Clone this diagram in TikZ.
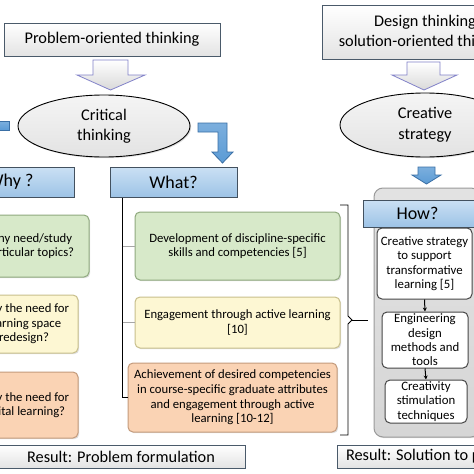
\documentclass[tikz,border=0pt]{standalone}
\usepackage{fontspec}
\setmainfont{Carlito}
\usetikzlibrary{shapes.geometric,shadows,arrows.meta,calc}
\definecolor{edgeblue}{HTML}{4A5A6A}
\definecolor{barblue}{HTML}{B4D3EF}
\definecolor{barblueD}{HTML}{9DC3E6}
\definecolor{arrblue}{HTML}{5B9BD5}
\definecolor{arrblueD}{HTML}{3A6FA5}
\definecolor{gfill}{HTML}{D7E9C9}
\definecolor{gedge}{HTML}{8FA97E}
\definecolor{yfill}{HTML}{FDF7D3}
\definecolor{yedge}{HTML}{C8BF8C}
\definecolor{ofill}{HTML}{FAD3B4}
\definecolor{oedge}{HTML}{C49B7C}
\definecolor{panel}{HTML}{D6D6D6}
\definecolor{panelD}{HTML}{9A9A9A}
\tikzset{
  softshadow/.style={drop shadow={opacity=0.25,shadow xshift=1.2pt,shadow yshift=-1.2pt}},
  graybox/.style={draw=edgeblue,line width=1pt,top color=white,bottom color=gray!22,inner sep=0pt,softshadow,font=\fontsize{16.3}{20}\selectfont,align=center},
  bluebar/.style={draw=edgeblue!90!black,line width=1pt,top color=barblue!70,bottom color=barblueD,inner sep=0pt,softshadow,font=\fontsize{18}{20}\selectfont,align=center},
  ovalnode/.style={ellipse,draw=black,line width=0.9pt,top color=gray!8,bottom color=gray!22,inner sep=0pt,softshadow,font=\fontsize{16.3}{20.5}\selectfont,align=center},
  cbox/.style={rounded corners=5pt,line width=1pt,inner sep=0pt,softshadow,font=\fontsize{12.7}{14.6}\selectfont,align=center},
  greenbox/.style={cbox,draw=gedge,fill=gfill},
  yellowbox/.style={cbox,draw=yedge,fill=yfill},
  orangebox/.style={cbox,draw=oedge,fill=ofill},
  howbox/.style={rounded corners=5pt,draw=gray!55!black,line width=1pt,fill=white,inner sep=0pt,font=\fontsize{12.8}{14.4}\selectfont,align=center},
  hollowarrow/.style={draw=gray!60!blue!70,line width=0.8pt,top color=white,bottom color=gray!30},
  bluearrow/.style={draw=arrblueD,line width=0.8pt,top color=arrblue!80,bottom color=arrblue},
  treeline/.style={draw=black,line width=0.8pt},
}
\begin{document}
\begin{tikzpicture}[x=1pt,y=-1pt]
\useasboundingbox (0,0) rectangle (474,474);
\clip (0,0) rectangle (474,474);
\fill[white] (0,0) rectangle (474,474);

% ---------- left column ----------
\node[graybox,minimum width=216pt,minimum height=33pt] (pot) at (112,39.5) {Problem-oriented thinking};
\draw[hollowarrow] (93,60) -- (128,60) -- (128,75) -- (145,75) -- (110.5,90) -- (77,75) -- (93,75) -- cycle;
\node[ovalnode,minimum width=172pt,minimum height=62pt] (crit) at (104,126) {Critical\\thinking};

% bent arrows from critical thinking
\draw[bluearrow] (-5,121) -- (9,121) -- (9,130) -- (-5,130) -- cycle;
\draw[bluearrow] (198,123) -- (227,123) -- (227,152) -- (233,152) -- (222.5,163) -- (212,152) -- (218,152) -- (218,132) -- (198,132) -- cycle;

\node[bluebar,minimum width=127pt,minimum height=30pt] (why) at (10.5,182) {Why ?};
\node[bluebar,minimum width=127pt,minimum height=30pt] (what) at (173.5,182) {What?};

\node[greenbox,minimum width=119pt,minimum height=62pt] (lg) at (29.5,246) {Why need/study\\particular topics?};
\node[yellowbox,minimum width=108pt,minimum height=58pt] (ly) at (24,324) {Why the need for\\learning space\\redesign?};
\node[orangebox,minimum width=108pt,minimum height=66pt] (lo) at (24,405) {Why the need for\\digital learning?};

\node[greenbox,minimum width=205pt,minimum height=68pt] (wg) at (237.5,246) {Development of discipline-specific\\skills and competencies [5]};
\node[yellowbox,minimum width=205pt,minimum height=51pt] (wy) at (237.5,322.5) {Engagement through active learning\\{}[10]};
\node[orangebox,minimum width=209pt,minimum height=69pt] (wo) at (232.5,397.5) {Achievement of desired competencies\\in course-specific graduate attributes\\and engagement through active\\learning [10-12]};

% tree lines
\coordinate (tr) at ($(what.south west)+(13,0)$);
\draw[treeline] (tr) |- (wo.west);
\draw[treeline,draw=gray!70] (tr |- wg.west) -- (wg.west);
\draw[treeline,draw=gray!70] (tr |- wy.west) -- (wy.west);

% bracket
\coordinate (bt) at (340,205);
\coordinate (bb) at (340,435);
\coordinate (bm) at (352,320);
\draw[treeline] (bt) -- (348,205) -- (348,316) -- (bm) -- (348,324) -- (348,435) -- (bb);
\draw[treeline] (bm) -- (368,320);

\node[graybox,minimum width=248pt,minimum height=23pt] (res1) at (121,456.5) {Result: Problem formulation};

% ---------- right column ----------
\node[graybox,minimum width=206pt,minimum height=54pt] (dt) at (425,32) {Design thinking\\solution-oriented thinking};
\draw[hollowarrow] (407,62) -- (440,62) -- (440,75) -- (457,75) -- (424,90) -- (392,75) -- (407,75) -- cycle;
\node[ovalnode,minimum width=170pt,minimum height=64pt] (cs) at (425,125) {Creative\\strategy};
\draw[bluearrow] (418,167) -- (435,167) -- (435,175) -- (441,175) -- (426.5,184) -- (412,175) -- (418,175) -- cycle;

\node[rounded corners=9pt,draw=panelD,line width=1pt,top color=panel!70,bottom color=panel,minimum width=106pt,minimum height=249pt,inner sep=0pt,softshadow] (panel) at (427,312.5) {};
\node[bluebar,minimum width=117pt,minimum height=27pt] (how) at (421.5,213.5) {\hspace*{-8pt}How?};
\node[howbox,minimum width=95pt,minimum height=71pt] (hb1) at (424.5,263.5) {Creative strategy\\to support\\transformative\\learning [5]};
\node[howbox,minimum width=86pt,minimum height=56pt] (hb2) at (425,340) {Engineering\\design\\methods and\\tools};
\node[howbox,minimum width=82pt,minimum height=43pt] (hb3) at (426,401.5) {Creativity\\stimulation\\techniques};
\draw[-{Stealth[length=4pt,width=4pt]},line width=1pt] (hb1.south) -- (hb2.north);
\draw[-{Stealth[length=4pt,width=4pt]},line width=1pt] (hb2.south) -- (hb3.north);

\node[graybox,minimum width=200pt,minimum height=23pt] (res2) at (437,456.5) {Result: Solution to problem};
\end{tikzpicture}
\end{document}
